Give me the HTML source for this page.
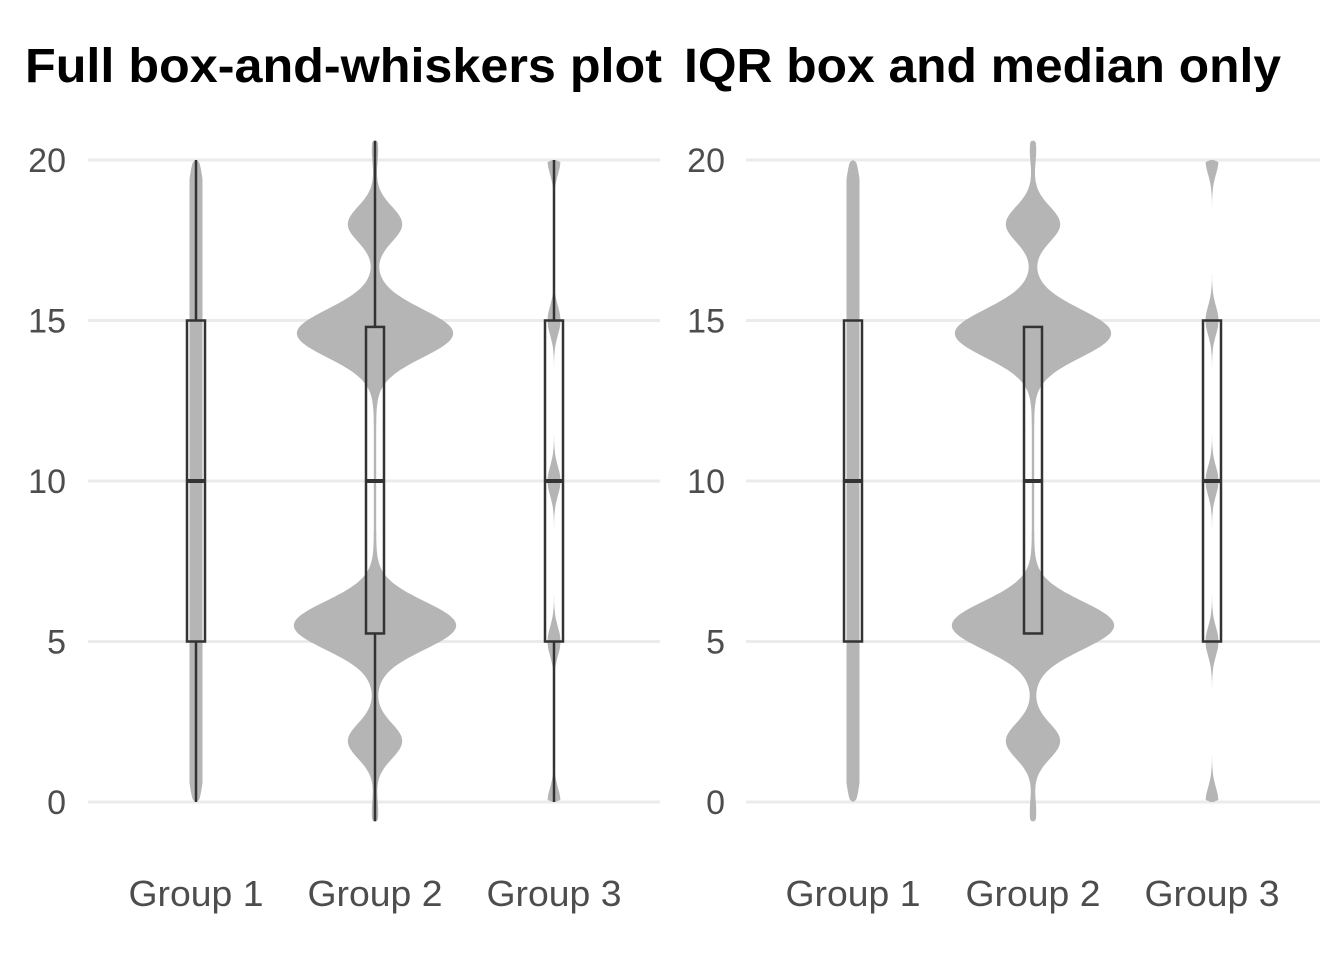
<!DOCTYPE html>
<html><head><style>
html,body{margin:0;padding:0;background:#fff;}
svg{display:block;}
</style></head><body>
<svg id="s" width="1344" height="960" xmlns="http://www.w3.org/2000/svg" font-family="Liberation Sans, sans-serif">
<text x="25" y="82" font-size="48" font-weight="bold" fill="#000" textLength="637" lengthAdjust="spacingAndGlyphs">Full box-and-whiskers plot</text>
<text x="684" y="82" font-size="48" font-weight="bold" fill="#000" textLength="597" lengthAdjust="spacingAndGlyphs">IQR box and median only</text>
<g id="g"></g>
</svg>
<script>
const NS="http://www.w3.org/2000/svg";
const g=document.getElementById('g');
function el(t,a){const e=document.createElementNS(NS,t);for(const k in a)e.setAttribute(k,a[k]);g.appendChild(e);return e;}
const Y=v=>802-v*32.1;
function gauss(v,m,A,s){return A*Math.exp(-(v-m)*(v-m)/(2*s*s));}
const prof={
 1:{lo:0,hi:20,f:v=>{let w=6.5;let d=Math.min(v-0,20-v);if(d<0.6)w*=Math.sqrt(Math.max(d,0)/0.6)*0.8+0.2*(d>0?1:0);return w;}},
 2:{lo:-0.6,hi:20.6,f:v=>1.2+gauss(v,1.9,26,0.55)+gauss(v,5.5,80,0.75)+gauss(v,14.6,77,0.75)+gauss(v,18,26,0.55)+gauss(v,-0.3,2,0.4)+gauss(v,20.3,2,0.4)},
 3:{lo:0,hi:20,f:v=>{let w=0;for(const m of [0,5,10,15,20])w+=gauss(v,m,6.5,0.45);return w;}}
};
function violin(cx,p){let L=[],R=[];const n=300;for(let i=0;i<=n;i++){const v=p.lo+(p.hi-p.lo)*i/n;let w=p.f(v);if(i==0||i==n)w=Math.min(w,1.5);L.push([cx-w,Y(v)]);R.push([cx+w,Y(v)]);}
 const pts=L.concat(R.reverse());el('path',{d:'M'+pts.map(q=>q[0].toFixed(1)+','+q[1].toFixed(1)).join('L')+'Z',fill:'#b5b5b5'});}
const box={1:[5,10,15,0,20],2:[5.25,10,14.8,-0.6,20.6],3:[5,10,15,0,20]};
function panel(x0,x1,lab,centers,whisk){
 for(const v of [0,5,10,15,20]){el('line',{x1:x0,x2:x1,y1:Y(v),y2:Y(v),stroke:'#ebebeb','stroke-width':3});
  const t=el('text',{x:lab,y:Y(v)+12,'font-size':34,fill:'#4d4d4d','text-anchor':'end'});t.textContent=v;}
 centers.forEach((cx,i)=>{const k=i+1,b=box[k];
  const t=el('text',{x:cx,y:906,'font-size':36,fill:'#4d4d4d','text-anchor':'middle',textLength:135,lengthAdjust:'spacingAndGlyphs'});t.textContent='Group '+k;
  el('rect',{x:cx-9,y:Y(b[2]),width:18,height:Y(b[0])-Y(b[2]),fill:'#fff'});
  violin(cx,prof[k]);
  if(whisk){el('line',{x1:cx,x2:cx,y1:Y(b[2]),y2:Y(b[4]),stroke:'#333','stroke-width':2.5});
   el('line',{x1:cx,x2:cx,y1:Y(b[0]),y2:Y(b[3]),stroke:'#333','stroke-width':2.5});}
  el('rect',{x:cx-9,y:Y(b[2]),width:18,height:Y(b[0])-Y(b[2]),fill:'none',stroke:'#333','stroke-width':2.5});
  el('line',{x1:cx-9,x2:cx+9,y1:Y(b[1]),y2:Y(b[1]),stroke:'#333','stroke-width':4});
 });
}
panel(88,660,66,[196,375,554],true);
panel(746,1320,725,[853,1033,1212],false);
</script>
</body></html>
